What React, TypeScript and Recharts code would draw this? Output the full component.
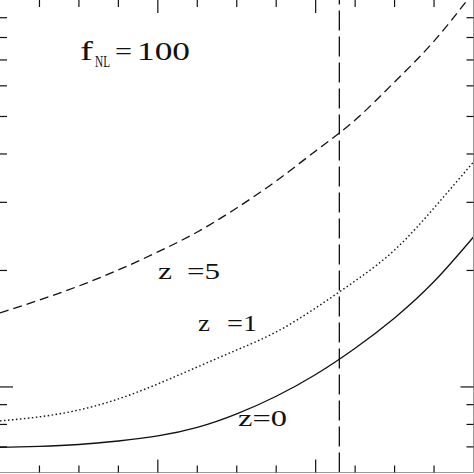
import { LineChart, Line, XAxis, YAxis, ReferenceLine } from 'recharts';

// x positions of the sampled curves
const xs = [0, 0.25, 0.5, 0.75, 1, 1.25, 1.5, 1.75, 2, 2.25, 2.5, 2.75, 3];
// z = 0 (solid)
const z0 = [0.698, 0.702, 0.71, 0.725, 0.747, 0.786, 0.852, 0.946, 1.077, 1.259, 1.508, 1.872, 2.441];
// z = 1 (dotted)
const z1 = [0.817, 0.837, 0.872, 0.931, 1.018, 1.126, 1.246, 1.387, 1.6, 1.879, 2.259, 2.901, 3.815];
// z = 5 (dashed)
const z5 = [1.553, 1.678, 1.824, 2.006, 2.233, 2.515, 2.901, 3.407, 4.072, 4.897, 6.14, 7.83, 10.49];

const cutX = 2.15;
const xTicks = [0.25, 0.5, 0.75, 1, 1.25, 1.5, 1.75, 2, 2.25, 2.5, 2.75];
const yTicks = [0.7, 0.8, 0.9, 1, 2, 3, 4, 5, 6, 7, 8, 9];

const data = xs.map((x, i) => ({ x, z0: z0[i], z1: z1[i], z5: z5[i] }));

const serif = { fontFamily: '"Liberation Serif", "DejaVu Serif", serif', fill: '#111' };

const isMajorX = (v: number) => Math.abs(v - Math.round(v)) < 1e-6;
const isMajorY = (v: number) => {
  const l = Math.log10(v);
  return Math.abs(l - Math.round(l)) < 1e-6;
};

function xTickMark(side: 'top' | 'bottom') {
  return (props: any) => {
    const { x, y, payload } = props;
    const len = isMajorX(payload.value) ? 13 : 7;
    const y2 = side === 'bottom' ? y - len : y + len;
    return <path d={`M${x},${y}L${x},${y2}`} stroke="#111" strokeWidth={1.2} fill="none" />;
  };
}

function yTickMark(side: 'left' | 'right') {
  return (props: any) => {
    const { x, y, payload } = props;
    const len = isMajorY(payload.value) ? 13 : 7;
    const x2 = side === 'left' ? x + len : x - len;
    return <line x1={x} y1={y} x2={x2} y2={y} stroke="#111" strokeWidth={1.2} />;
  };
}

export default function App() {
  return (
    <div style={{ position: 'absolute', left: 0, top: 0, width: 474, height: 474, background: '#fff' }}>
      <LineChart width={474} height={474} data={data} margin={{ top: -1, right: -0.5, bottom: 0.5, left: -1 }}>
        <XAxis dataKey="x" type="number" domain={[0, 3]} allowDataOverflow ticks={xTicks} interval={0}
          height={1} tickSize={0} tickMargin={0} tickLine={false}
          axisLine={{ stroke: '#999' }} tick={xTickMark('bottom')} />
        <XAxis xAxisId="top" orientation="top" dataKey="x" type="number" domain={[0, 3]} allowDataOverflow
          ticks={xTicks} interval={0} height={1} tickSize={0} tickMargin={0} tickLine={false}
          axisLine={false} tick={xTickMark('top')} />
        <YAxis type="number" scale="log" domain={[0.601, 10]} allowDataOverflow ticks={yTicks} interval={0}
          width={1} tickSize={0} tickMargin={0} tickLine={false}
          axisLine={false} tick={yTickMark('left')} />
        <YAxis yAxisId="right" orientation="right" type="number" scale="log" domain={[0.601, 10]} allowDataOverflow
          ticks={yTicks} interval={0} width={1} tickSize={0} tickMargin={0} tickLine={false}
          axisLine={{ stroke: '#999' }} tick={yTickMark('right')} />
        <ReferenceLine x={cutX} stroke="#111" strokeWidth={1.3} strokeDasharray="20 6" />
        <Line dataKey="z0" type="natural" stroke="#111" strokeWidth={1.3} dot={false} activeDot={false} isAnimationActive={false} />
        <Line dataKey="z1" type="natural" stroke="#111" strokeWidth={1.4} strokeDasharray="1.5 2.5" dot={false} activeDot={false} isAnimationActive={false} />
        <Line dataKey="z5" type="natural" stroke="#111" strokeWidth={1.3} strokeDasharray="9 5" dot={false} activeDot={false} isAnimationActive={false} />
        <Line xAxisId="top" yAxisId="right" dataKey="z0" stroke="none" dot={false} activeDot={false} legendType="none" isAnimationActive={false} />
        <text x={80} y={60} fontSize={27} style={serif} textLength={13} lengthAdjust="spacingAndGlyphs">f</text>
        <text x={95} y={67} fontSize={16} style={serif} textLength={15} lengthAdjust="spacingAndGlyphs">NL</text>
        <text x={115} y={60} fontSize={26} style={serif} textLength={17} lengthAdjust="spacingAndGlyphs">=</text>
        <text x={137} y={60} fontSize={26} style={serif} textLength={53} lengthAdjust="spacingAndGlyphs">100</text>
        <text x={158} y={279} fontSize={23} style={serif} textLength={14} lengthAdjust="spacingAndGlyphs">z</text>
        <text x={187} y={279} fontSize={23} style={serif} textLength={33} lengthAdjust="spacingAndGlyphs">=5</text>
        <text x={198} y={331} fontSize={23} style={serif} textLength={12} lengthAdjust="spacingAndGlyphs">z</text>
        <text x={227} y={331} fontSize={23} style={serif} textLength={30} lengthAdjust="spacingAndGlyphs">=1</text>
        <text x={238} y={426} fontSize={23} style={serif} textLength={49} lengthAdjust="spacingAndGlyphs">z=0</text>
      </LineChart>
    </div>
  );
}
